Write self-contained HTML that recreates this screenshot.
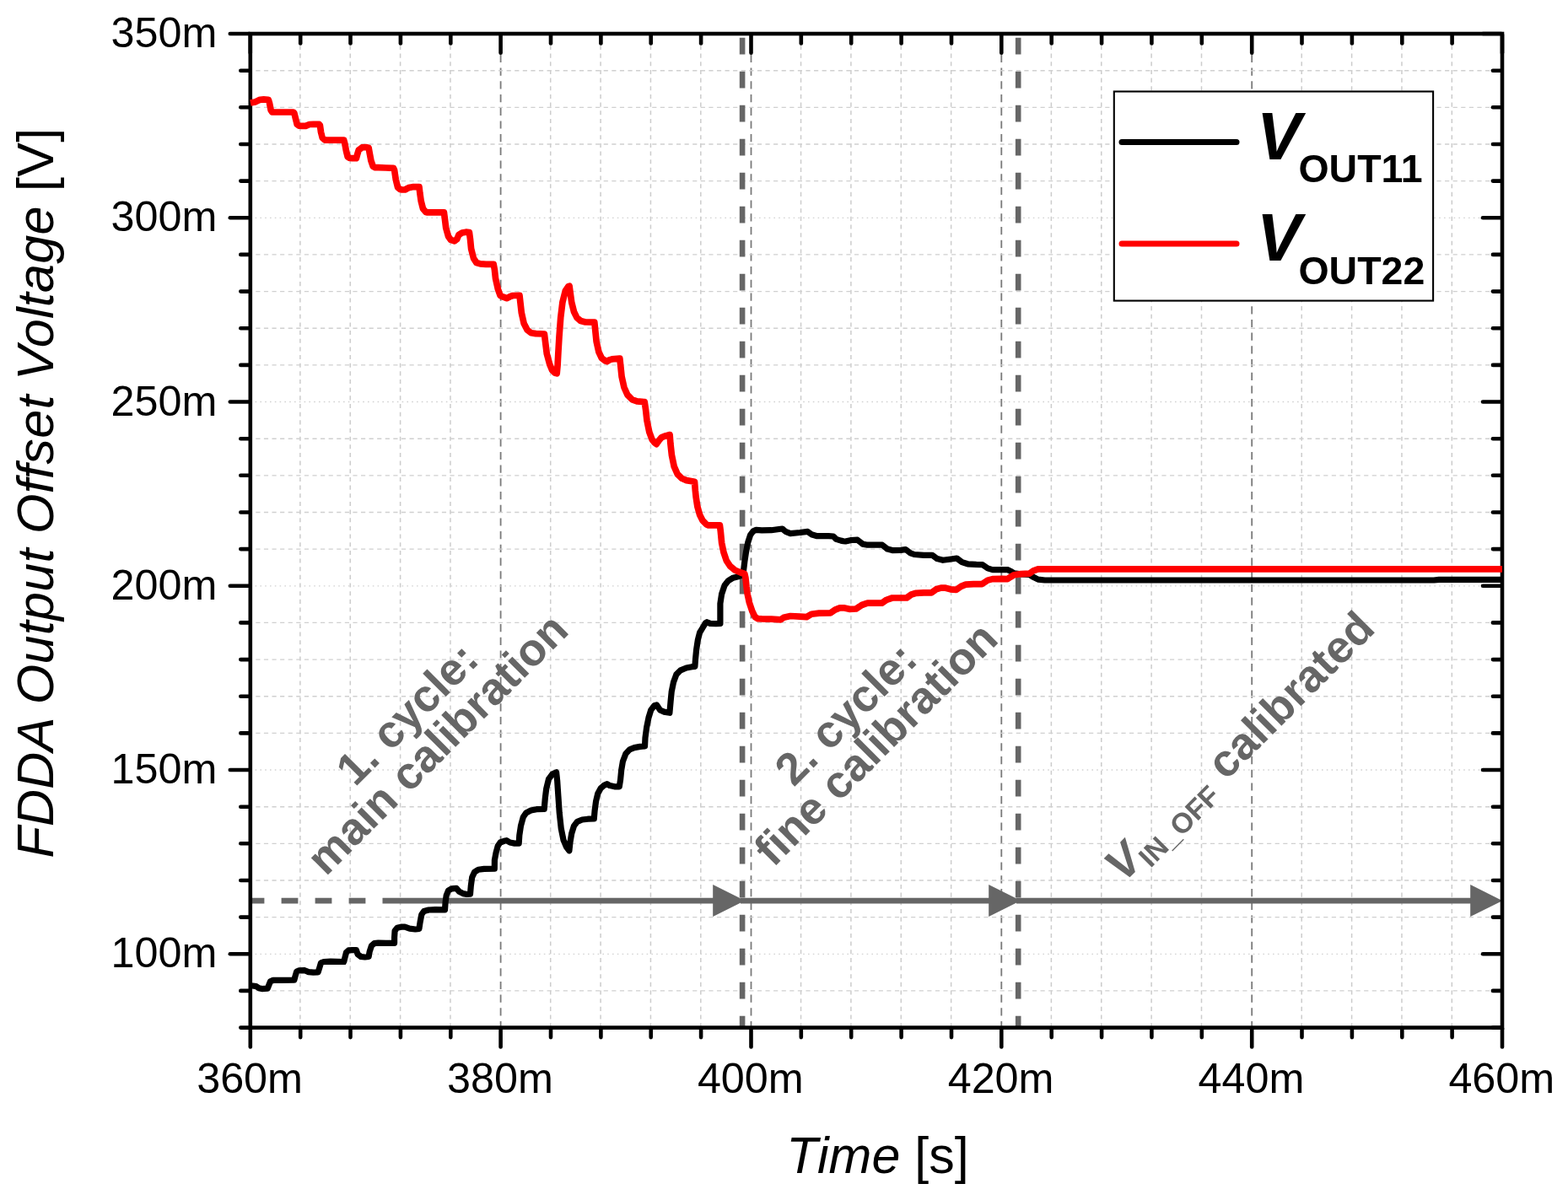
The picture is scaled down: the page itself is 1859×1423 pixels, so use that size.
<!DOCTYPE html>
<html lang="en"><head><meta charset="utf-8"><title>FDDA Output Offset Voltage</title>
<style>html,body{margin:0;padding:0;background:#fff;}body{width:1859px;height:1423px;overflow:hidden;}svg{display:block;}text{font-family:"Liberation Sans",Arial,Helvetica,sans-serif;}</style></head><body>
<svg width="1859" height="1423" viewBox="0 0 1859 1423" role="img" aria-label="FDDA output offset voltage versus time">
<rect x="0" y="0" width="1859" height="1423" fill="#ffffff"/>
<g fill="none">
<line x1="355.87" y1="40.0" x2="355.87" y2="1218.6" stroke="#cccccc" stroke-width="1.5" stroke-dasharray="5.06 4.6" stroke-dashoffset="-4.3"/>
<line x1="415.24" y1="40.0" x2="415.24" y2="1218.6" stroke="#cccccc" stroke-width="1.5" stroke-dasharray="5.06 4.6" stroke-dashoffset="-4.3"/>
<line x1="474.60" y1="40.0" x2="474.60" y2="1218.6" stroke="#cccccc" stroke-width="1.5" stroke-dasharray="5.06 4.6" stroke-dashoffset="-4.3"/>
<line x1="533.97" y1="40.0" x2="533.97" y2="1218.6" stroke="#cccccc" stroke-width="1.5" stroke-dasharray="5.06 4.6" stroke-dashoffset="-4.3"/>
<line x1="593.6" y1="40.0" x2="593.6" y2="1218.6" stroke="#7a7a7a" stroke-width="1.8" stroke-dasharray="9.2 6.5" stroke-dashoffset="-9.2"/>
<line x1="652.71" y1="40.0" x2="652.71" y2="1218.6" stroke="#cccccc" stroke-width="1.5" stroke-dasharray="5.06 4.6" stroke-dashoffset="-4.3"/>
<line x1="712.08" y1="40.0" x2="712.08" y2="1218.6" stroke="#cccccc" stroke-width="1.5" stroke-dasharray="5.06 4.6" stroke-dashoffset="-4.3"/>
<line x1="771.44" y1="40.0" x2="771.44" y2="1218.6" stroke="#cccccc" stroke-width="1.5" stroke-dasharray="5.06 4.6" stroke-dashoffset="-4.3"/>
<line x1="830.81" y1="40.0" x2="830.81" y2="1218.6" stroke="#cccccc" stroke-width="1.5" stroke-dasharray="5.06 4.6" stroke-dashoffset="-4.3"/>
<line x1="890.5" y1="40.0" x2="890.5" y2="1218.6" stroke="#7a7a7a" stroke-width="1.8" stroke-dasharray="9.2 6.5" stroke-dashoffset="-9.2"/>
<line x1="949.55" y1="40.0" x2="949.55" y2="1218.6" stroke="#cccccc" stroke-width="1.5" stroke-dasharray="5.06 4.6" stroke-dashoffset="-4.3"/>
<line x1="1008.92" y1="40.0" x2="1008.92" y2="1218.6" stroke="#cccccc" stroke-width="1.5" stroke-dasharray="5.06 4.6" stroke-dashoffset="-4.3"/>
<line x1="1068.28" y1="40.0" x2="1068.28" y2="1218.6" stroke="#cccccc" stroke-width="1.5" stroke-dasharray="5.06 4.6" stroke-dashoffset="-4.3"/>
<line x1="1127.65" y1="40.0" x2="1127.65" y2="1218.6" stroke="#cccccc" stroke-width="1.5" stroke-dasharray="5.06 4.6" stroke-dashoffset="-4.3"/>
<line x1="1187.3" y1="40.0" x2="1187.3" y2="1218.6" stroke="#7a7a7a" stroke-width="1.8" stroke-dasharray="9.2 6.5" stroke-dashoffset="-9.2"/>
<line x1="1246.39" y1="40.0" x2="1246.39" y2="1218.6" stroke="#cccccc" stroke-width="1.5" stroke-dasharray="5.06 4.6" stroke-dashoffset="-4.3"/>
<line x1="1305.76" y1="40.0" x2="1305.76" y2="1218.6" stroke="#cccccc" stroke-width="1.5" stroke-dasharray="5.06 4.6" stroke-dashoffset="-4.3"/>
<line x1="1365.12" y1="40.0" x2="1365.12" y2="1218.6" stroke="#cccccc" stroke-width="1.5" stroke-dasharray="5.06 4.6" stroke-dashoffset="-4.3"/>
<line x1="1424.49" y1="40.0" x2="1424.49" y2="1218.6" stroke="#cccccc" stroke-width="1.5" stroke-dasharray="5.06 4.6" stroke-dashoffset="-4.3"/>
<line x1="1484.2" y1="40.0" x2="1484.2" y2="1218.6" stroke="#7a7a7a" stroke-width="1.8" stroke-dasharray="9.2 6.5" stroke-dashoffset="-9.2"/>
<line x1="1543.23" y1="40.0" x2="1543.23" y2="1218.6" stroke="#cccccc" stroke-width="1.5" stroke-dasharray="5.06 4.6" stroke-dashoffset="-4.3"/>
<line x1="1602.60" y1="40.0" x2="1602.60" y2="1218.6" stroke="#cccccc" stroke-width="1.5" stroke-dasharray="5.06 4.6" stroke-dashoffset="-4.3"/>
<line x1="1661.96" y1="40.0" x2="1661.96" y2="1218.6" stroke="#cccccc" stroke-width="1.5" stroke-dasharray="5.06 4.6" stroke-dashoffset="-4.3"/>
<line x1="1721.33" y1="40.0" x2="1721.33" y2="1218.6" stroke="#cccccc" stroke-width="1.5" stroke-dasharray="5.06 4.6" stroke-dashoffset="-4.3"/>
<line x1="296.8" y1="1174.9" x2="1781.0" y2="1174.9" stroke="#d0d0d0" stroke-width="1.35" stroke-dasharray="5.2 4.39" stroke-dashoffset="-6.5"/>
<line x1="296.8" y1="1131.3" x2="1781.0" y2="1131.3" stroke="#d2d2d2" stroke-width="1.3" stroke-dasharray="1.6 4.2"/>
<line x1="296.8" y1="1087.6" x2="1781.0" y2="1087.6" stroke="#d0d0d0" stroke-width="1.35" stroke-dasharray="5.2 4.39" stroke-dashoffset="-6.5"/>
<line x1="296.8" y1="1044.0" x2="1781.0" y2="1044.0" stroke="#d0d0d0" stroke-width="1.35" stroke-dasharray="5.2 4.39" stroke-dashoffset="-6.5"/>
<line x1="296.8" y1="1000.3" x2="1781.0" y2="1000.3" stroke="#d0d0d0" stroke-width="1.35" stroke-dasharray="5.2 4.39" stroke-dashoffset="-6.5"/>
<line x1="296.8" y1="956.7" x2="1781.0" y2="956.7" stroke="#d0d0d0" stroke-width="1.35" stroke-dasharray="5.2 4.39" stroke-dashoffset="-6.5"/>
<line x1="296.8" y1="913.0" x2="1781.0" y2="913.0" stroke="#d2d2d2" stroke-width="1.3" stroke-dasharray="1.6 4.2"/>
<line x1="296.8" y1="869.4" x2="1781.0" y2="869.4" stroke="#d0d0d0" stroke-width="1.35" stroke-dasharray="5.2 4.39" stroke-dashoffset="-6.5"/>
<line x1="296.8" y1="825.7" x2="1781.0" y2="825.7" stroke="#d0d0d0" stroke-width="1.35" stroke-dasharray="5.2 4.39" stroke-dashoffset="-6.5"/>
<line x1="296.8" y1="782.1" x2="1781.0" y2="782.1" stroke="#d0d0d0" stroke-width="1.35" stroke-dasharray="5.2 4.39" stroke-dashoffset="-6.5"/>
<line x1="296.8" y1="738.4" x2="1781.0" y2="738.4" stroke="#d0d0d0" stroke-width="1.35" stroke-dasharray="5.2 4.39" stroke-dashoffset="-6.5"/>
<line x1="296.8" y1="694.8" x2="1781.0" y2="694.8" stroke="#d2d2d2" stroke-width="1.3" stroke-dasharray="1.6 4.2"/>
<line x1="296.8" y1="651.1" x2="1781.0" y2="651.1" stroke="#d0d0d0" stroke-width="1.35" stroke-dasharray="5.2 4.39" stroke-dashoffset="-6.5"/>
<line x1="296.8" y1="607.5" x2="1781.0" y2="607.5" stroke="#d0d0d0" stroke-width="1.35" stroke-dasharray="5.2 4.39" stroke-dashoffset="-6.5"/>
<line x1="296.8" y1="563.8" x2="1781.0" y2="563.8" stroke="#d0d0d0" stroke-width="1.35" stroke-dasharray="5.2 4.39" stroke-dashoffset="-6.5"/>
<line x1="296.8" y1="520.2" x2="1781.0" y2="520.2" stroke="#d0d0d0" stroke-width="1.35" stroke-dasharray="5.2 4.39" stroke-dashoffset="-6.5"/>
<line x1="296.8" y1="476.5" x2="1781.0" y2="476.5" stroke="#d2d2d2" stroke-width="1.3" stroke-dasharray="1.6 4.2"/>
<line x1="296.8" y1="432.9" x2="1781.0" y2="432.9" stroke="#d0d0d0" stroke-width="1.35" stroke-dasharray="5.2 4.39" stroke-dashoffset="-6.5"/>
<line x1="296.8" y1="389.2" x2="1781.0" y2="389.2" stroke="#d0d0d0" stroke-width="1.35" stroke-dasharray="5.2 4.39" stroke-dashoffset="-6.5"/>
<line x1="296.8" y1="345.6" x2="1781.0" y2="345.6" stroke="#d0d0d0" stroke-width="1.35" stroke-dasharray="5.2 4.39" stroke-dashoffset="-6.5"/>
<line x1="296.8" y1="301.9" x2="1781.0" y2="301.9" stroke="#d0d0d0" stroke-width="1.35" stroke-dasharray="5.2 4.39" stroke-dashoffset="-6.5"/>
<line x1="296.8" y1="258.3" x2="1781.0" y2="258.3" stroke="#d2d2d2" stroke-width="1.3" stroke-dasharray="1.6 4.2"/>
<line x1="296.8" y1="214.6" x2="1781.0" y2="214.6" stroke="#d0d0d0" stroke-width="1.35" stroke-dasharray="5.2 4.39" stroke-dashoffset="-6.5"/>
<line x1="296.8" y1="171.0" x2="1781.0" y2="171.0" stroke="#d0d0d0" stroke-width="1.35" stroke-dasharray="5.2 4.39" stroke-dashoffset="-6.5"/>
<line x1="296.8" y1="127.3" x2="1781.0" y2="127.3" stroke="#d0d0d0" stroke-width="1.35" stroke-dasharray="5.2 4.39" stroke-dashoffset="-6.5"/>
<line x1="296.8" y1="83.7" x2="1781.0" y2="83.7" stroke="#d0d0d0" stroke-width="1.35" stroke-dasharray="5.2 4.39" stroke-dashoffset="-6.5"/>
</g>
<g stroke="#666666" fill="none">
<line x1="296.8" y1="1068.1" x2="453.5" y2="1068.1" stroke-width="6.8" stroke-dasharray="19.8 20.2" stroke-dashoffset="3.2"/>
<line x1="453.5" y1="1068.1" x2="850" y2="1068.1" stroke-width="6.8"/>
<line x1="878" y1="1068.1" x2="1176" y2="1068.1" stroke-width="6.8"/>
<line x1="1205" y1="1068.1" x2="1750" y2="1068.1" stroke-width="6.8"/>
<line x1="880.1" y1="40.0" x2="880.1" y2="1218.6" stroke-width="6.6" stroke-dasharray="19.8 20.2" stroke-dashoffset="-4.7"/>
<line x1="1207.2" y1="40.0" x2="1207.2" y2="1218.6" stroke-width="6.6" stroke-dasharray="19.8 20.2" stroke-dashoffset="-4.7"/>
</g>
<polygon points="883.2,1068.1 845.2,1049.1 845.2,1087.1" fill="#666666"/>
<polygon points="1210.2,1068.1 1172.2,1049.1 1172.2,1087.1" fill="#666666"/>
<polygon points="1781.2,1068.1 1743.2,1049.1 1743.2,1087.1" fill="#666666"/>
<g fill="#666666" font-weight="bold" font-size="53.5px" text-anchor="middle">
<g transform="translate(500,880) rotate(-45)"><text x="11.5" y="-17.8">1. cycle:</text><text x="11.5" y="32.6">main calibration</text></g>
<g transform="translate(1020,880) rotate(-45)"><text x="11.5" y="-17.8">2. cycle:</text><text x="11.5" y="32.6">fine calibration</text></g>
<g transform="translate(1470,880) rotate(-45)" text-anchor="start"><text y="21.1" style="white-space:pre"><tspan x="-216.2" font-style="italic" font-size="54.5px">V</tspan><tspan x="-181" dy="9.9" font-size="33.5px">IN_OFF</tspan><tspan x="-59.17" dy="-9.9" xml:space="preserve"> calibrated</tspan></text></g>
</g>
<g stroke="#000000" fill="none" stroke-width="4.6" stroke-linecap="round">
<line x1="296.8" y1="1219.6" x2="296.8" y2="1241.4"/>
<line x1="296.8" y1="41.0" x2="296.8" y2="62.8"/>
<line x1="356.2" y1="1219.6" x2="356.2" y2="1230.1"/>
<line x1="356.2" y1="41.0" x2="356.2" y2="51.5"/>
<line x1="415.5" y1="1219.6" x2="415.5" y2="1230.1"/>
<line x1="415.5" y1="41.0" x2="415.5" y2="51.5"/>
<line x1="474.9" y1="1219.6" x2="474.9" y2="1230.1"/>
<line x1="474.9" y1="41.0" x2="474.9" y2="51.5"/>
<line x1="534.3" y1="1219.6" x2="534.3" y2="1230.1"/>
<line x1="534.3" y1="41.0" x2="534.3" y2="51.5"/>
<line x1="593.6" y1="1219.6" x2="593.6" y2="1241.4"/>
<line x1="593.6" y1="41.0" x2="593.6" y2="62.8"/>
<line x1="653.0" y1="1219.6" x2="653.0" y2="1230.1"/>
<line x1="653.0" y1="41.0" x2="653.0" y2="51.5"/>
<line x1="712.4" y1="1219.6" x2="712.4" y2="1230.1"/>
<line x1="712.4" y1="41.0" x2="712.4" y2="51.5"/>
<line x1="771.7" y1="1219.6" x2="771.7" y2="1230.1"/>
<line x1="771.7" y1="41.0" x2="771.7" y2="51.5"/>
<line x1="831.1" y1="1219.6" x2="831.1" y2="1230.1"/>
<line x1="831.1" y1="41.0" x2="831.1" y2="51.5"/>
<line x1="890.5" y1="1219.6" x2="890.5" y2="1241.4"/>
<line x1="890.5" y1="41.0" x2="890.5" y2="62.8"/>
<line x1="949.8" y1="1219.6" x2="949.8" y2="1230.1"/>
<line x1="949.8" y1="41.0" x2="949.8" y2="51.5"/>
<line x1="1009.2" y1="1219.6" x2="1009.2" y2="1230.1"/>
<line x1="1009.2" y1="41.0" x2="1009.2" y2="51.5"/>
<line x1="1068.6" y1="1219.6" x2="1068.6" y2="1230.1"/>
<line x1="1068.6" y1="41.0" x2="1068.6" y2="51.5"/>
<line x1="1128.0" y1="1219.6" x2="1128.0" y2="1230.1"/>
<line x1="1128.0" y1="41.0" x2="1128.0" y2="51.5"/>
<line x1="1187.3" y1="1219.6" x2="1187.3" y2="1241.4"/>
<line x1="1187.3" y1="41.0" x2="1187.3" y2="62.8"/>
<line x1="1246.7" y1="1219.6" x2="1246.7" y2="1230.1"/>
<line x1="1246.7" y1="41.0" x2="1246.7" y2="51.5"/>
<line x1="1306.1" y1="1219.6" x2="1306.1" y2="1230.1"/>
<line x1="1306.1" y1="41.0" x2="1306.1" y2="51.5"/>
<line x1="1365.4" y1="1219.6" x2="1365.4" y2="1230.1"/>
<line x1="1365.4" y1="41.0" x2="1365.4" y2="51.5"/>
<line x1="1424.8" y1="1219.6" x2="1424.8" y2="1230.1"/>
<line x1="1424.8" y1="41.0" x2="1424.8" y2="51.5"/>
<line x1="1484.2" y1="1219.6" x2="1484.2" y2="1241.4"/>
<line x1="1484.2" y1="41.0" x2="1484.2" y2="62.8"/>
<line x1="1543.5" y1="1219.6" x2="1543.5" y2="1230.1"/>
<line x1="1543.5" y1="41.0" x2="1543.5" y2="51.5"/>
<line x1="1602.9" y1="1219.6" x2="1602.9" y2="1230.1"/>
<line x1="1602.9" y1="41.0" x2="1602.9" y2="51.5"/>
<line x1="1662.3" y1="1219.6" x2="1662.3" y2="1230.1"/>
<line x1="1662.3" y1="41.0" x2="1662.3" y2="51.5"/>
<line x1="1721.6" y1="1219.6" x2="1721.6" y2="1230.1"/>
<line x1="1721.6" y1="41.0" x2="1721.6" y2="51.5"/>
<line x1="1781.0" y1="1219.6" x2="1781.0" y2="1241.4"/>
<line x1="1781.0" y1="41.0" x2="1781.0" y2="62.8"/>
<line x1="295.8" y1="1218.6" x2="285.3" y2="1218.6"/>
<line x1="1780.0" y1="1218.6" x2="1769.9" y2="1218.6"/>
<line x1="295.8" y1="1174.9" x2="285.3" y2="1174.9"/>
<line x1="1780.0" y1="1174.9" x2="1769.9" y2="1174.9"/>
<line x1="295.8" y1="1131.3" x2="272.8" y2="1131.3"/>
<line x1="1780.0" y1="1131.3" x2="1758.0" y2="1131.3"/>
<line x1="295.8" y1="1087.6" x2="285.3" y2="1087.6"/>
<line x1="1780.0" y1="1087.6" x2="1769.9" y2="1087.6"/>
<line x1="295.8" y1="1044.0" x2="285.3" y2="1044.0"/>
<line x1="1780.0" y1="1044.0" x2="1769.9" y2="1044.0"/>
<line x1="295.8" y1="1000.3" x2="285.3" y2="1000.3"/>
<line x1="1780.0" y1="1000.3" x2="1769.9" y2="1000.3"/>
<line x1="295.8" y1="956.7" x2="285.3" y2="956.7"/>
<line x1="1780.0" y1="956.7" x2="1769.9" y2="956.7"/>
<line x1="295.8" y1="913.0" x2="272.8" y2="913.0"/>
<line x1="1780.0" y1="913.0" x2="1758.0" y2="913.0"/>
<line x1="295.8" y1="869.4" x2="285.3" y2="869.4"/>
<line x1="1780.0" y1="869.4" x2="1769.9" y2="869.4"/>
<line x1="295.8" y1="825.7" x2="285.3" y2="825.7"/>
<line x1="1780.0" y1="825.7" x2="1769.9" y2="825.7"/>
<line x1="295.8" y1="782.1" x2="285.3" y2="782.1"/>
<line x1="1780.0" y1="782.1" x2="1769.9" y2="782.1"/>
<line x1="295.8" y1="738.4" x2="285.3" y2="738.4"/>
<line x1="1780.0" y1="738.4" x2="1769.9" y2="738.4"/>
<line x1="295.8" y1="694.8" x2="272.8" y2="694.8"/>
<line x1="1780.0" y1="694.8" x2="1758.0" y2="694.8"/>
<line x1="295.8" y1="651.1" x2="285.3" y2="651.1"/>
<line x1="1780.0" y1="651.1" x2="1769.9" y2="651.1"/>
<line x1="295.8" y1="607.5" x2="285.3" y2="607.5"/>
<line x1="1780.0" y1="607.5" x2="1769.9" y2="607.5"/>
<line x1="295.8" y1="563.8" x2="285.3" y2="563.8"/>
<line x1="1780.0" y1="563.8" x2="1769.9" y2="563.8"/>
<line x1="295.8" y1="520.2" x2="285.3" y2="520.2"/>
<line x1="1780.0" y1="520.2" x2="1769.9" y2="520.2"/>
<line x1="295.8" y1="476.5" x2="272.8" y2="476.5"/>
<line x1="1780.0" y1="476.5" x2="1758.0" y2="476.5"/>
<line x1="295.8" y1="432.9" x2="285.3" y2="432.9"/>
<line x1="1780.0" y1="432.9" x2="1769.9" y2="432.9"/>
<line x1="295.8" y1="389.2" x2="285.3" y2="389.2"/>
<line x1="1780.0" y1="389.2" x2="1769.9" y2="389.2"/>
<line x1="295.8" y1="345.6" x2="285.3" y2="345.6"/>
<line x1="1780.0" y1="345.6" x2="1769.9" y2="345.6"/>
<line x1="295.8" y1="301.9" x2="285.3" y2="301.9"/>
<line x1="1780.0" y1="301.9" x2="1769.9" y2="301.9"/>
<line x1="295.8" y1="258.3" x2="272.8" y2="258.3"/>
<line x1="1780.0" y1="258.3" x2="1758.0" y2="258.3"/>
<line x1="295.8" y1="214.6" x2="285.3" y2="214.6"/>
<line x1="1780.0" y1="214.6" x2="1769.9" y2="214.6"/>
<line x1="295.8" y1="171.0" x2="285.3" y2="171.0"/>
<line x1="1780.0" y1="171.0" x2="1769.9" y2="171.0"/>
<line x1="295.8" y1="127.3" x2="285.3" y2="127.3"/>
<line x1="1780.0" y1="127.3" x2="1769.9" y2="127.3"/>
<line x1="295.8" y1="83.7" x2="285.3" y2="83.7"/>
<line x1="1780.0" y1="83.7" x2="1769.9" y2="83.7"/>
<line x1="295.8" y1="40.0" x2="272.8" y2="40.0"/>
<line x1="1780.0" y1="40.0" x2="1758.0" y2="40.0"/>
<rect x="296.8" y="40.0" width="1484.2" height="1178.6" stroke-linejoin="miter"/>
</g>
<defs><clipPath id="plotclip"><rect x="296.2" y="40.0" width="1484.8" height="1178.6"/></clipPath></defs>
<g fill="none" stroke-linejoin="round" stroke-linecap="butt" clip-path="url(#plotclip)">
<path stroke="#000000" stroke-width="7.2" d="M296.8,1168.8 L299.6,1169.0 L303.6,1169.6 L307.0,1171.8 L310.4,1172.6 L317.2,1172.2 L318.9,1167.9 L320.5,1163.9 L323.9,1162.4 L333.0,1162.4 L348.8,1162.2 L350.0,1157.7 L351.7,1152.0 L354.5,1150.9 L361.3,1150.7 L365.8,1152.6 L371.5,1153.1 L377.1,1152.9 L378.8,1147.5 L380.5,1141.8 L383.9,1140.5 L391.8,1140.1 L407.7,1140.5 L408.8,1136.2 L410.5,1129.4 L413.3,1126.9 L417.9,1126.6 L422.4,1126.6 L424.1,1131.6 L428.0,1134.5 L432.6,1135.0 L437.1,1134.5 L438.2,1128.3 L440.5,1121.5 L443.9,1118.6 L448.4,1118.1 L457.5,1118.3 L467.6,1118.3 L467.6,1111.6 L468.1,1103.7 L470.9,1100.3 L475.4,1099.2 L480.0,1099.2 L485.6,1101.2 L492.4,1102.0 L496.9,1101.4 L498.1,1093.5 L499.8,1084.5 L502.6,1080.5 L508.3,1079.0 L516.2,1078.6 L527.5,1078.8 L528.1,1069.8 L529.2,1061.8 L531.5,1056.2 L535.4,1053.9 L541.1,1053.3 L544.5,1057.3 L549.0,1059.6 L553.5,1060.5 L557.5,1060.1 L558.3,1050.5 L559.7,1040.3 L562.6,1034.1 L567.1,1031.3 L573.9,1030.4 L586.3,1030.2 L586.4,1019.9 L588.1,1010.9 L590.3,1003.0 L593.1,999.0 L597.7,997.3 L600.5,996.7 L604.5,999.0 L610.1,1000.1 L615.2,1000.1 L615.8,990.5 L617.5,979.2 L620.3,969.0 L623.7,963.9 L629.4,961.1 L636.1,959.7 L645.2,959.4 L646.3,946.6 L647.7,935.3 L650.5,923.9 L655.1,917.7 L659.6,915.8 L660.7,926.2 L661.9,944.3 L663.2,963.5 L665.3,982.8 L668.1,996.4 L671.5,1004.3 L674.9,1008.8 L676.0,998.6 L677.7,988.4 L680.5,979.4 L684.5,974.3 L690.2,972.0 L696.9,971.2 L704.3,970.9 L705.1,961.3 L706.6,950.0 L708.8,940.9 L712.2,934.7 L716.2,931.3 L719.6,929.6 L723.0,931.6 L728.6,932.8 L734.3,932.8 L735.6,924.5 L736.7,913.1 L738.4,903.0 L741.8,893.9 L746.4,888.8 L752.0,886.6 L758.8,885.4 L764.5,884.9 L765.0,874.7 L766.7,862.2 L769.0,850.9 L771.8,841.9 L775.8,836.8 L778.6,836.0 L782.6,841.9 L787.1,844.1 L793.9,845.3 L795.1,831.6 L796.2,820.3 L798.5,809.0 L801.8,799.9 L806.9,794.8 L813.7,792.0 L820.5,790.7 L823.9,790.3 L824.5,781.8 L825.6,770.5 L827.3,759.2 L829.6,750.2 L833.0,744.5 L836.4,738.8 L838.1,737.7 L842.0,739.4 L848.8,739.7 L853.9,739.4 L853.9,727.1 L853.9,715.8 L855.6,704.5 L859.0,694.3 L863.5,688.6 L869.2,685.2 L876.0,683.5 L880.5,681.8 L881.6,676.2 L882.8,666.0 L884.5,654.7 L886.7,643.4 L889.6,634.3 L893.0,629.8 L896.4,628.4 L903.1,628.9 L914.5,628.7 L923.5,627.5 L927.5,627.0 L931.4,630.4 L937.1,632.6 L948.4,631.5 L957.5,630.4 L962.0,633.7 L968.8,635.7 L982.4,635.7 L988.0,636.0 L991.4,639.4 L997.1,641.1 L1000.0,641.7 L1000.0,641.7 L1002.4,642.0 L1009.2,640.5 L1016.6,640.2 L1022.8,645.1 L1028.5,646.2 L1037.5,646.2 L1046.0,646.2 L1052.2,651.1 L1057.9,652.6 L1068.1,652.4 L1073.7,651.5 L1079.4,655.8 L1083.9,657.5 L1095.2,658.3 L1105.4,658.3 L1111.1,662.6 L1117.9,664.3 L1125.8,663.2 L1134.3,662.0 L1140.5,666.6 L1147.3,668.8 L1157.5,669.4 L1164.8,669.6 L1171.0,673.9 L1176.7,675.6 L1188.0,675.6 L1194.5,675.6 L1197.9,677.2 L1202.4,679.8 L1210.4,680.9 L1220.5,681.5 L1225.1,684.3 L1230.7,687.1 L1238.7,688.0 L1700.0,688.0 L1706.0,687.3 L1781.0,687.3"/>
<path stroke="#ff0000" stroke-width="7.7" d="M296.8,122.1 L302.4,120.9 L308.1,118.3 L312.6,117.9 L318.3,118.3 L319.6,122.6 L321.1,130.5 L322.8,133.0 L323.9,133.0 L335.3,133.0 L347.7,133.0 L348.8,133.9 L350.5,140.7 L352.2,147.5 L354.5,149.2 L357.9,149.4 L362.4,149.4 L366.9,147.5 L371.5,147.3 L378.3,147.3 L379.4,148.7 L380.5,156.6 L382.2,163.4 L385.0,165.9 L386.2,166.2 L397.5,166.2 L407.7,166.2 L408.8,170.2 L410.5,179.2 L412.2,186.0 L414.5,187.4 L417.9,187.7 L422.4,187.7 L423.5,183.7 L425.2,178.1 L429.2,174.9 L433.7,174.5 L437.1,175.2 L438.2,181.5 L439.9,190.5 L442.2,197.3 L445.0,198.7 L448.4,198.7 L457.5,199.0 L466.5,199.3 L467.6,201.8 L469.3,213.1 L471.6,222.2 L474.4,224.5 L476.7,225.0 L480.1,225.0 L484.5,222.6 L489.1,221.7 L497.0,221.7 L497.9,229.4 L499.2,238.5 L501.5,247.5 L504.9,251.5 L506.0,251.8 L516.2,251.8 L526.4,251.8 L527.3,258.8 L528.7,270.2 L531.5,280.3 L534.3,284.3 L538.8,285.8 L541.7,283.7 L543.9,278.6 L547.9,276.0 L552.4,275.2 L556.4,275.6 L557.5,283.7 L558.6,295.0 L561.5,306.4 L564.9,311.5 L569.4,312.9 L576.2,313.4 L585.2,313.4 L586.4,319.9 L587.5,330.1 L590.3,342.6 L593.1,350.5 L596.8,352.2 L600.7,353.7 L604.7,351.7 L608.1,350.5 L616.0,350.3 L616.9,358.5 L618.3,370.9 L621.1,383.4 L625.1,391.3 L629.6,394.7 L635.3,395.6 L645.4,396.0 L646.6,406.0 L648.3,419.6 L651.7,432.0 L654.5,438.8 L657.9,442.2 L660.2,442.8 L661.1,433.1 L661.8,419.6 L663.0,399.2 L664.7,376.6 L666.9,358.5 L670.3,344.9 L673.7,339.8 L675.1,339.2 L676.0,346.0 L677.7,358.5 L680.5,369.8 L683.9,376.6 L688.4,380.5 L694.1,382.0 L704.8,382.2 L705.6,390.2 L707.1,404.9 L709.9,417.3 L713.3,424.7 L717.9,428.1 L719.6,428.6 L722.4,426.9 L725.8,425.8 L734.8,425.0 L735.7,433.1 L737.1,446.7 L739.9,459.2 L743.9,468.2 L749.5,473.9 L755.2,475.9 L764.2,476.7 L765.5,485.3 L767.0,498.8 L769.8,512.4 L773.2,521.5 L776.6,525.4 L778.3,526.6 L781.1,522.6 L784.5,518.6 L789.0,516.9 L794.1,515.6 L794.9,526.0 L796.4,539.6 L799.2,553.1 L803.2,562.2 L808.3,567.3 L813.9,569.6 L823.5,571.3 L824.3,581.4 L825.1,589.1 L826.8,600.4 L829.6,610.5 L833.0,617.3 L837.5,621.9 L839.8,622.8 L844.3,622.8 L853.4,622.8 L854.3,629.8 L855.6,643.4 L857.9,654.7 L861.3,664.9 L865.8,671.6 L871.5,676.2 L878.3,679.0 L882.8,680.5 L883.9,685.2 L885.0,695.4 L886.2,704.5 L888.4,714.6 L891.8,724.8 L895.2,731.6 L898.6,733.7 L903.1,733.9 L914.5,734.1 L925.8,734.8 L929.2,732.2 L937.1,730.5 L948.4,731.1 L956.3,731.6 L962.0,728.2 L971.0,727.1 L984.6,726.9 L990.0,723.1 L995.7,720.9 L1001.3,720.9 L1007.0,722.3 L1014.9,722.0 L1021.7,717.5 L1028.5,715.2 L1037.5,715.2 L1045.4,715.2 L1051.1,711.3 L1057.9,709.0 L1066.9,709.0 L1074.9,709.0 L1080.5,705.0 L1086.2,703.3 L1095.2,702.8 L1104.3,702.8 L1109.9,698.8 L1115.6,697.1 L1120.1,697.1 L1126.9,698.8 L1133.7,699.4 L1139.4,695.4 L1145.0,693.1 L1154.1,692.6 L1164.2,692.6 L1171.0,688.1 L1176.7,686.6 L1188.0,686.4 L1194.5,686.6 L1197.9,684.3 L1202.4,681.7 L1210.4,680.6 L1220.5,680.1 L1225.1,676.9 L1230.7,674.9 L1237.5,674.8 L1781.0,674.8"/>
</g>
<g fill="#000000" font-size="50.3px">
<text x="257.3" y="1147.3" text-anchor="end">100m</text>
<text x="257.3" y="929.0" text-anchor="end">150m</text>
<text x="257.3" y="710.8" text-anchor="end">200m</text>
<text x="257.3" y="492.5" text-anchor="end">250m</text>
<text x="257.3" y="274.3" text-anchor="end">300m</text>
<text x="257.3" y="56.0" text-anchor="end">350m</text>
<text x="296.1" y="1296.3" text-anchor="middle">360m</text>
<text x="592.9" y="1296.3" text-anchor="middle">380m</text>
<text x="889.8" y="1296.3" text-anchor="middle">400m</text>
<text x="1186.6" y="1296.3" text-anchor="middle">420m</text>
<text x="1483.5" y="1296.3" text-anchor="middle">440m</text>
<text x="1780.3" y="1296.3" text-anchor="middle">460m</text>
</g>
<g fill="#000000" font-size="61px">
<text x="1040.5" y="1391" text-anchor="middle"><tspan font-style="italic">Time</tspan> [s]</text>
<text transform="translate(63,584.5) rotate(-90)" text-anchor="middle" letter-spacing="0.32"><tspan font-style="italic">FDDA Output Offset Voltage</tspan> [V]</text>
</g>
<rect x="1320.8" y="108.5" width="378.3" height="248.1" fill="#ffffff" stroke="#000000" stroke-width="2.1"/>
<line x1="1330" y1="168.6" x2="1466" y2="168.6" stroke="#000000" stroke-width="7" stroke-linecap="round"/>
<line x1="1330" y1="289.1" x2="1466" y2="289.1" stroke="#ff0000" stroke-width="7" stroke-linecap="round"/>
<g fill="#000000" font-weight="bold">
<text x="1490" y="188.6"><tspan font-style="italic" font-size="79px">V</tspan><tspan font-size="46.5px" dx="-3.3" dy="27.6">OUT11</tspan></text>
<text x="1490" y="309.1"><tspan font-style="italic" font-size="79px">V</tspan><tspan font-size="46.5px" dx="-3.3" dy="27.6">OUT22</tspan></text>
</g>
</svg></body></html>
